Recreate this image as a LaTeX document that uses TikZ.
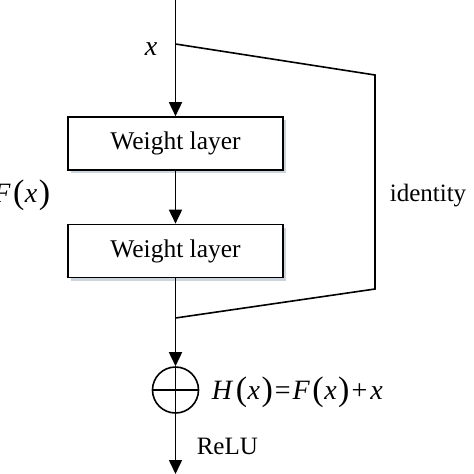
\documentclass[tikz,border=0pt]{standalone}
\usepackage{fontspec}
\setmainfont{Liberation Serif}
\usetikzlibrary{arrows.meta,shadows}
\definecolor{shade}{RGB}{170,185,200}
\newcommand{\bp}[1]{{\fontsize{34}{34}\selectfont\raisebox{-1pt}{#1}}}
\newcommand{\fx}[1]{\textit{#1}\kern2.5pt\bp{(}\kern0.5pt\textit{x}\kern1.5pt\bp{)}}
\begin{document}
\begin{tikzpicture}[x=1pt,y=-1pt,
  line width=1.6pt,
  tip/.style={-{Triangle[length=14pt,width=13pt]}},
  wbox/.style={draw,fill=white,minimum width=215pt,minimum height=53pt,inner sep=0pt,
    font=\fontsize{25.5}{28}\selectfont,
    drop shadow={fill=shade,opacity=0.6,shadow xshift=2.5pt,shadow yshift=-3pt}},
  lbl/.style={font=\fontsize{25}{28}\selectfont,inner sep=0pt},
  mlbl/.style={font=\fontsize{28}{30}\selectfont,inner sep=0pt}]
\useasboundingbox (0,0) rectangle (474,474);
\coordinate (top) at (175.5,0);
\coordinate (split) at (175.5,44);
\coordinate (ir1) at (375,75);
\coordinate (ir2) at (375,289);
\coordinate (join) at (175.5,318);
\coordinate (out) at (175.5,474);
\node[wbox] (w1) at (175.5,143.5) {Weight layer};
\node[wbox] (w2) at (175.5,251) {Weight layer};
\node[draw,circle,minimum size=46pt,inner sep=0pt] (sum) at (175.5,390) {};
\draw (sum.north) -- (sum.south);
\draw (sum.west) -- (sum.east);
\draw[tip] (top) -- (w1.north);
\draw[tip] (w1.south) -- (w2.north);
\draw (w2.south) -- (join);
\draw[tip] (join) -- (sum.north);
\draw[tip] (sum.south) -- (out);
\draw (split) -- (ir1) -- (ir2) -- (join);
\node[mlbl,anchor=east] (xl) at (158,49) {\textit{x}};
\node[mlbl,anchor=east] (fl) at (51,195) {\fx{F}};
\node[lbl,anchor=west] (id) at (389,196) {identity};
\node[mlbl,anchor=west] (hl) at (211,392) {\fx{H}\kern2pt=\kern2pt\fx{F}\kern2pt+\kern3pt\textit{x}};
\node[lbl,anchor=west] (relu) at (196,446) {ReLU};
\end{tikzpicture}
\end{document}
